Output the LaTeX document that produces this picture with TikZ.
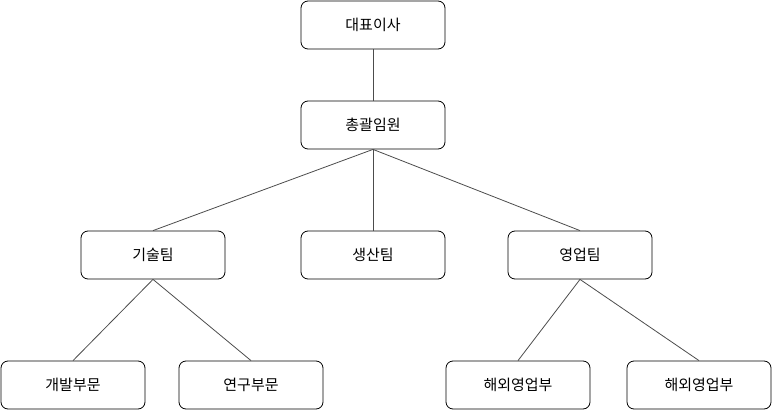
\documentclass[tikz,border=0pt]{standalone}
\usepackage{fontspec}
\newfontfamily\kr{Noto Sans CJK KR}
\begin{document}
\begin{tikzpicture}[x=1pt,y=-1pt,
  box/.style={draw=black,rounded corners=7pt,minimum width=144pt,minimum height=48pt,inner sep=0pt,font=\kr\fontsize{15}{18}\selectfont,line width=0.8pt},
  link/.style={draw=black!70,line width=0.8pt}]
\useasboundingbox (0,0) rectangle (773,412);
\node[box] (ceo) at (373,25) {대표이사};
\node[box] (gm) at (373,125) {총괄임원};
\node[box] (tech) at (153,255) {기술팀};
\node[box] (prod) at (373,255) {생산팀};
\node[box] (sales) at (580,255) {영업팀};
\node[box] (dev) at (73,385) {개발부문};
\node[box] (res) at (251,385) {연구부문};
\node[box] (os1) at (518,385) {해외영업부};
\node[box] (os2) at (699,385) {해외영업부};
\draw[link] (ceo.south) -- (gm.north);
\draw[link] (gm.south) -- (tech.north);
\draw[link] (gm.south) -- (prod.north);
\draw[link] (gm.south) -- (sales.north);
\draw[link] (tech.south) -- (dev.north);
\draw[link] (tech.south) -- (res.north);
\draw[link] (sales.south) -- (os1.north);
\draw[link] (sales.south) -- (os2.north);
\end{tikzpicture}
\end{document}
